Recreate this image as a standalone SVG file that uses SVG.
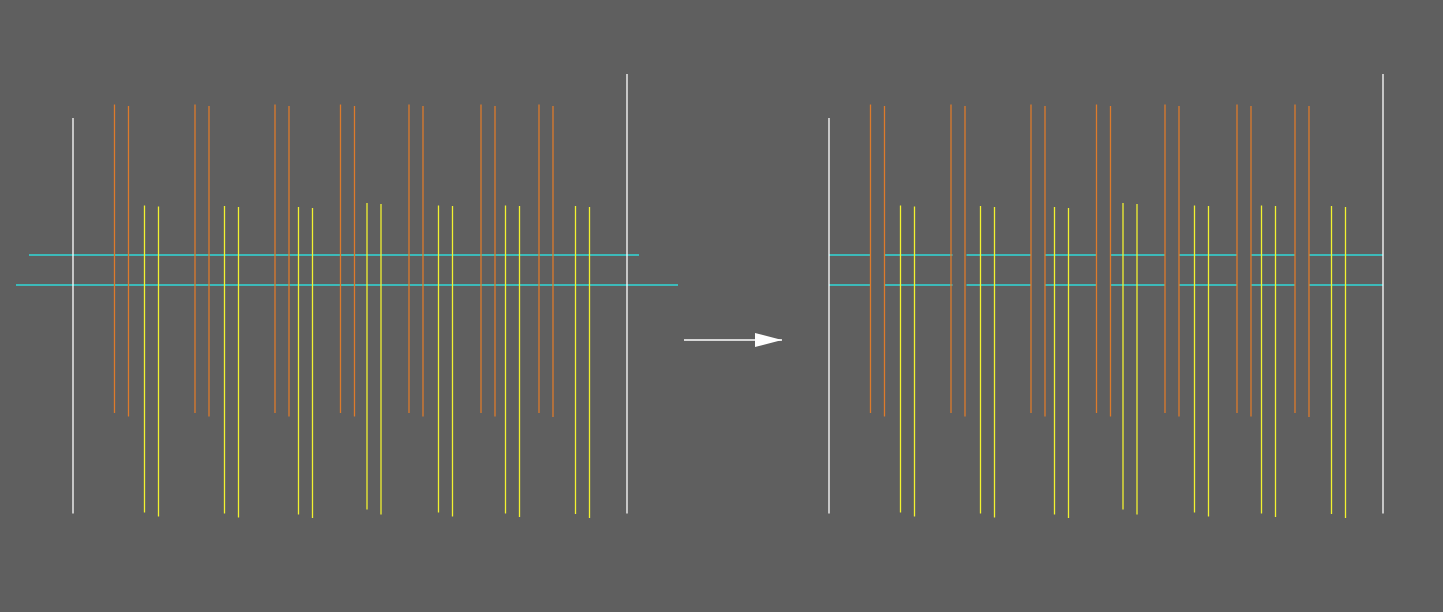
<svg xmlns="http://www.w3.org/2000/svg" width="1443" height="612" viewBox="0 0 1443 612">
<style>
.w{stroke:#ffffff;stroke-width:1.3}
.c{stroke:#30d8d8;stroke-width:1.3}
.o{stroke:#dd7b2c;stroke-width:1.3}
.y{stroke:#f2f230;stroke-width:1.3}
</style>
<defs>
<marker id="ah" viewBox="0 0 27 14" refX="27" refY="7" markerWidth="27" markerHeight="14" markerUnits="userSpaceOnUse" orient="auto">
<path d="M0,0 L27,7 L0,14 Z" fill="#ffffff"/>
</marker>
<g id="wires">
<g id="orange">
<line class="o" x1="114.5" y1="104.5" x2="114.5" y2="413"/><line class="o" x1="128.5" y1="106" x2="128.5" y2="416.5"/>
<line class="o" x1="195" y1="104.5" x2="195" y2="413"/><line class="o" x1="209" y1="106" x2="209" y2="416.5"/>
<line class="o" x1="275" y1="104.5" x2="275" y2="413"/><line class="o" x1="289" y1="106" x2="289" y2="416.5"/>
<line class="o" x1="340.5" y1="104.5" x2="340.5" y2="413"/><line class="o" x1="354.5" y1="106" x2="354.5" y2="416.5"/>
<line class="o" x1="409" y1="104.5" x2="409" y2="413"/><line class="o" x1="423" y1="106" x2="423" y2="416.5"/>
<line class="o" x1="481" y1="104.5" x2="481" y2="413"/><line class="o" x1="495" y1="106" x2="495" y2="416.5"/>
<line class="o" x1="539" y1="104.5" x2="539" y2="413"/><line class="o" x1="553" y1="106" x2="553" y2="417"/>
</g>
<g id="yellow">
<line class="y" x1="144.5" y1="205.5" x2="144.5" y2="512.5"/><line class="y" x1="158.5" y1="206.5" x2="158.5" y2="516.5"/>
<line class="y" x1="224.5" y1="206" x2="224.5" y2="513.5"/><line class="y" x1="238.5" y1="207" x2="238.5" y2="517.5"/>
<line class="y" x1="298.5" y1="207" x2="298.5" y2="514.5"/><line class="y" x1="312.5" y1="208" x2="312.5" y2="518"/>
<line class="y" x1="367" y1="203" x2="367" y2="509.5"/><line class="y" x1="381" y1="204" x2="381" y2="514.5"/>
<line class="y" x1="438.5" y1="205.5" x2="438.5" y2="512.5"/><line class="y" x1="452.5" y1="206" x2="452.5" y2="516.5"/>
<line class="y" x1="505.5" y1="205.5" x2="505.5" y2="513.5"/><line class="y" x1="519.5" y1="206" x2="519.5" y2="517"/>
<line class="y" x1="575.5" y1="206" x2="575.5" y2="514"/><line class="y" x1="589.5" y1="207" x2="589.5" y2="518"/>
</g>
<line class="w" x1="73" y1="118" x2="73" y2="513.5"/>
<line class="w" x1="627" y1="74" x2="627" y2="513.5"/>
</g>
</defs>
<rect width="1443" height="612" fill="#5f5f5f"/>
<g id="left-panel">
<line class="c" x1="29" y1="255" x2="639" y2="255"/>
<line class="c" x1="16" y1="285" x2="678" y2="285"/>
<use href="#wires"/>
</g>
<g id="connectors">
<line x1="684" y1="340" x2="782" y2="340" stroke="#ffffff" stroke-width="1.3" marker-end="url(#ah)"/>
</g>
<g id="right-panel">
<g id="cyan-cut">
<line class="c" x1="829" y1="255" x2="870" y2="255"/><line class="c" x1="829" y1="285" x2="870" y2="285"/>
<line class="c" x1="884.5" y1="255" x2="952.5" y2="255"/><line class="c" x1="884.5" y1="285" x2="952.5" y2="285"/>
<line class="c" x1="966.5" y1="255" x2="1031" y2="255"/><line class="c" x1="966.5" y1="285" x2="1031" y2="285"/>
<line class="c" x1="1045" y1="255" x2="1096.5" y2="255"/><line class="c" x1="1045" y1="285" x2="1096.5" y2="285"/>
<line class="c" x1="1110.5" y1="255" x2="1165" y2="255"/><line class="c" x1="1110.5" y1="285" x2="1165" y2="285"/>
<line class="c" x1="1179" y1="255" x2="1237" y2="255"/><line class="c" x1="1179" y1="285" x2="1237" y2="285"/>
<line class="c" x1="1251" y1="255" x2="1295" y2="255"/><line class="c" x1="1251" y1="285" x2="1295" y2="285"/>
<line class="c" x1="1309" y1="255" x2="1383" y2="255"/><line class="c" x1="1309" y1="285" x2="1383" y2="285"/>
</g>
<use href="#wires" transform="translate(756,0)"/>
</g>
</svg>
